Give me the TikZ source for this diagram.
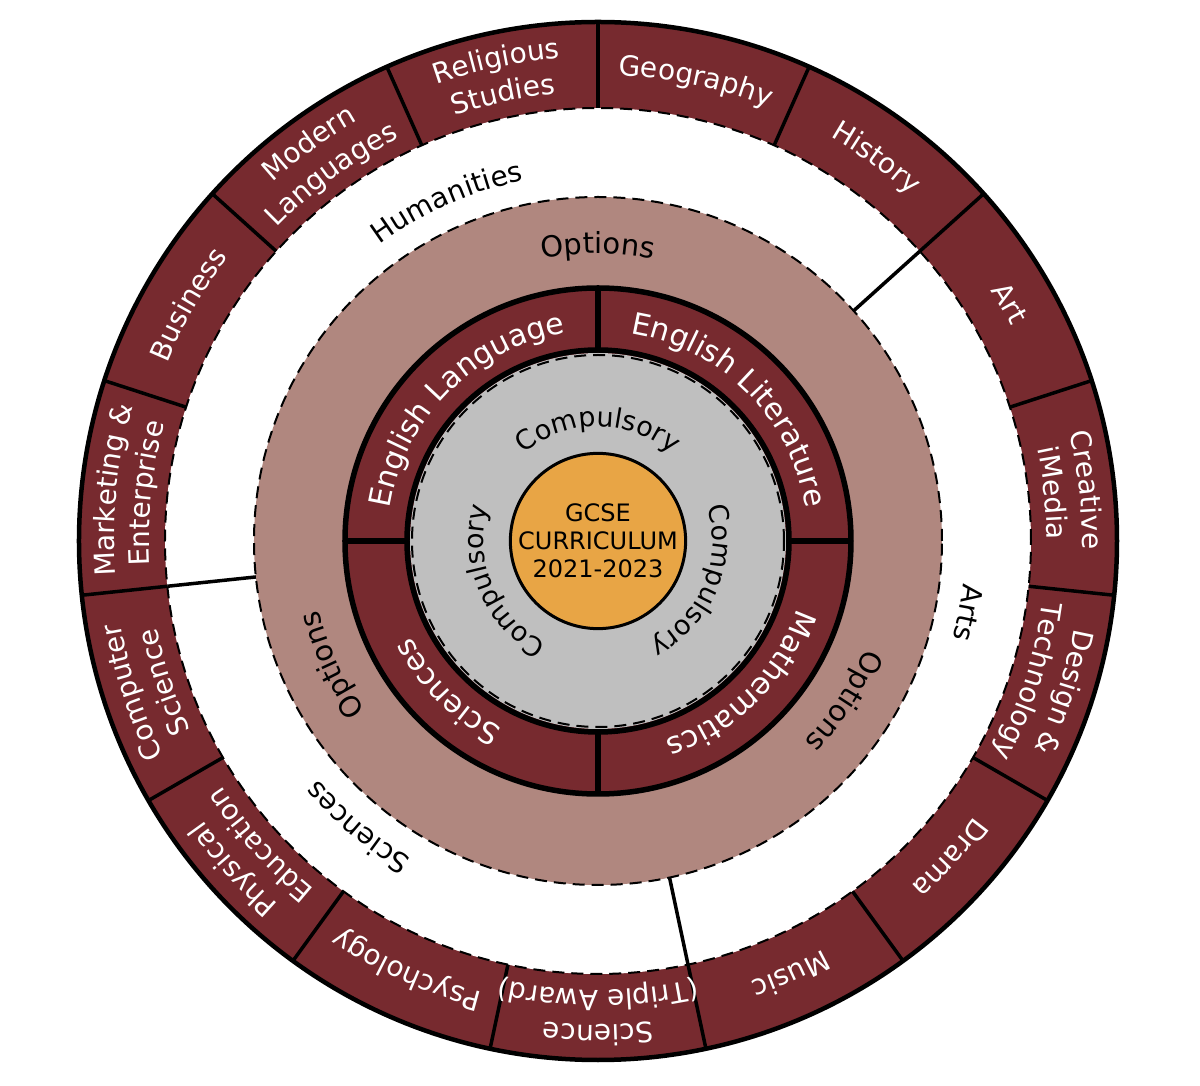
\documentclass[tikz,border=0pt]{standalone}
\usepackage{fontspec}
\setmainfont{DejaVu Sans}
\usetikzlibrary{decorations.text}
\definecolor{dr}{HTML}{772A2F}
\definecolor{lb}{HTML}{B0877F}
\definecolor{gr}{HTML}{BFBFBF}
\definecolor{og}{HTML}{E8A545}
\newcommand\arct[5]{%
\path[decorate,decoration={text along path,text align=center,text={|\fontsize{#3}{#3}\selectfont\color{#4}|#5}}]
 ({#2+60}:{#1-0.36*#3}) arc[start angle={#2+60},end angle={#2-60},radius={#1-0.36*#3}];}
\newcommand\seg[3]{\arct{494}{#1}{28}{white}{#2}\arct{459}{#1}{28}{white}{#3}}
\begin{document}
\begin{tikzpicture}[x=1pt,y=1pt,dsh/.style={dash pattern=on 12pt off 7pt,line width=2pt}]
\useasboundingbox (-598,-545) rectangle (602,541);
\fill[dr] (0,0) coordinate (c) circle (519);
\fill[white] (c) circle (433);
\foreach \a in {-174,-150,...,162} \draw[line width=3.5pt] (\a:433) -- (\a:519);
\draw[line width=4.5pt] (c) circle (519);
\draw[dsh] (c) circle (433);
\fill[lb] (c) circle (344);
\draw[dsh] (c) circle (344);
\foreach \a in {42,-78,-174} \draw[line width=3.5pt] (\a:344) -- (\a:433);
\fill[dr] (c) circle (253);
\fill[gr] (c) circle (188);
\draw[dsh] (c) circle (186);
\draw[line width=5.5pt] (c) circle (253);
\draw[line width=5.5pt] (c) circle (191);
\foreach \a in {0,90,180,270} \draw[line width=5.5pt] (\a:191) -- (\a:253);
\node[circle,fill=og,draw,line width=3pt,minimum size=142pt,inner sep=0pt,align=center,font=\fontsize{24}{28}\selectfont] (o) at (c) {GCSE\\CURRICULUM\\2021-2023};
% outer ring
\seg{102}{Religious}{Studies}
\arct{476}{78}{28}{white}{Geography}
\arct{476}{54}{28}{white}{History}
\arct{476}{30}{28}{white}{Art}
\seg{6}{Creative}{iMedia}
\seg{-18}{Design {\&}}{Technology}
\arct{476}{-42}{28}{white}{Drama}
\arct{476}{-66}{28}{white}{Music}
\seg{-90}{Science}{(Triple Award)}
\arct{476}{-114}{28}{white}{Psychology}
\seg{-138}{Physical}{Education}
\seg{-162}{Computer}{Science}
\seg{174}{Marketing {\&}}{Enterprise}
\arct{476}{150}{28}{white}{Business}
\seg{126}{Modern}{Languages}
% middle
\arct{378}{114}{28}{black}{Humanities}
\arct{378}{-11}{28}{black}{Arts}
\arct{378}{-130}{28}{black}{Sciences}
\arct{298}{90}{29}{black}{Options}
\arct{298}{-155}{29}{black}{Options}
\arct{298}{-33}{29}{black}{Options}
\arct{221}{135}{30}{white}{English Language}
\arct{221}{45}{30}{white}{English Literature}
\arct{221}{-45}{30}{white}{Mathematics}
\arct{221}{-135}{30}{white}{Sciences}
\arct{124}{90}{27}{black}{Compulsory}
\arct{124}{-157}{27}{black}{Compulsory}
\arct{124}{-23}{27}{black}{Compulsory}
\end{tikzpicture}
\end{document}
